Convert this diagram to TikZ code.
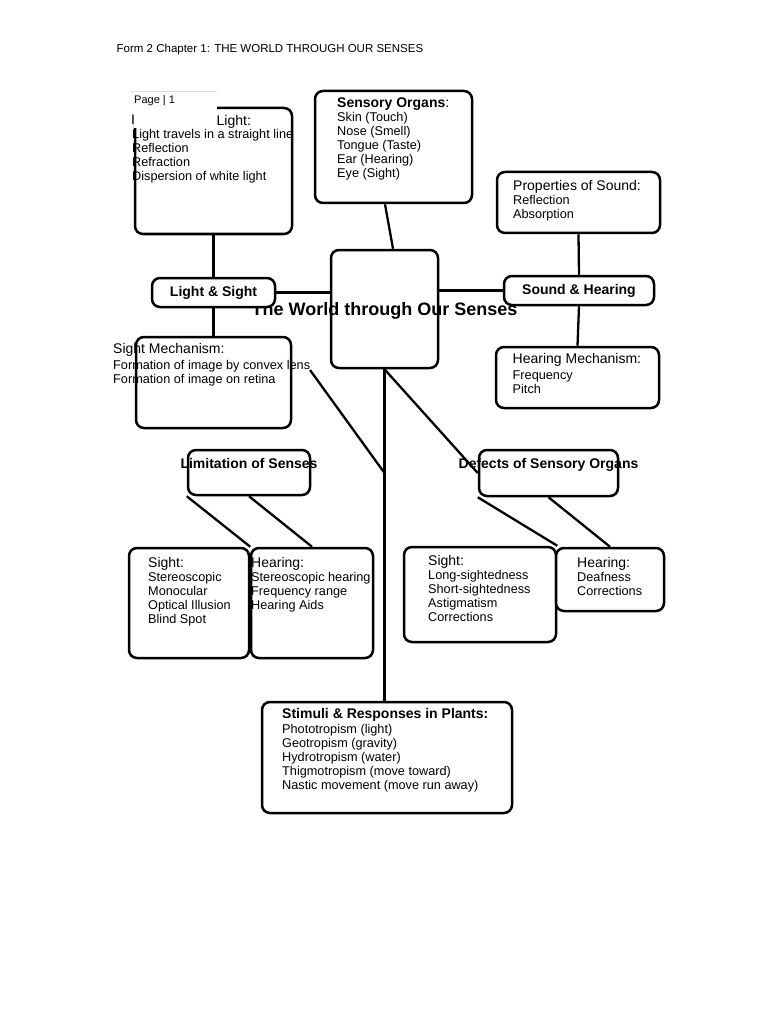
\documentclass[tikz,border=0pt]{standalone}
\usepackage{fontspec}
\setmainfont{Liberation Sans}
\tikzstyle{roundbox} = [rectangle, rounded corners=8pt, draw=black, line width=2.5pt, fill=white, inner sep=0pt]
\tikzstyle{labelbox} = [roundbox, font=\fontsize{14}{16}\selectfont\bfseries]
\tikzstyle{body} = [inner sep=0pt, anchor=north west, align=left, font=\fontsize{12.7}{14}\selectfont]
\tikzstyle{link} = [line width=2.3pt]
\newcommand{\headtxt}[1]{{\fontsize{14}{14}\selectfont #1}}
\begin{document}
\begin{tikzpicture}[x=1pt, y=-1pt]
\fill[white] (0,0) rectangle (768,1024);
\useasboundingbox (0,0) rectangle (768,1024);

% Header line
\node[anchor=base west, inner sep=0pt, font=\fontsize{11.5}{13}\selectfont] (headerTXT) at (116.5,53) {Form 2 Chapter 1: THE WORLD THROUGH OUR SENSES};

% Top row - boxes
\node[roundbox] (lightBOX) [minimum width=157pt, minimum height=126pt] at (213.5,171) {};
\node[roundbox] (sensoryBOX) [minimum width=157pt, minimum height=112pt] at (393.5,147) {};
\node[roundbox] (soundPROP) [minimum width=163pt, minimum height=61pt] at (578.5,202.5) {};

% Middle row - boxes
\node[roundbox] (centerBOX) [minimum width=107pt, minimum height=118pt] at (384.5,309) {};
\node[roundbox] (sightMECH) [minimum width=155pt, minimum height=91pt] at (213.5,382.5) {};
\node[roundbox] (hearMECH) [minimum width=163pt, minimum height=61pt] at (577.5,377.5) {};

% Lower rows - boxes
\node[roundbox] (limitBOX) [minimum width=122pt, minimum height=45pt] at (249,472.5) {};
\node[roundbox] (defectBOX) [minimum width=139pt, minimum height=46pt] at (548.5,473) {};
\node[roundbox] (limSIGHT) [minimum width=120pt, minimum height=110pt] at (189,603) {};
\node[roundbox] (limHEAR) [minimum width=122pt, minimum height=110pt] at (312,603) {};
\node[roundbox] (defSIGHT) [minimum width=152pt, minimum height=95pt] at (480,594.5) {};
\node[roundbox] (defHEAR) [minimum width=108pt, minimum height=63pt] at (610,579.5) {};
\node[roundbox] (plantBOX) [minimum width=250pt, minimum height=111pt] at (387,757.5) {};

% Centre title (under the label boxes)
\node[inner sep=0pt, anchor=base, font=\fontsize{18}{20}\selectfont\bfseries] (titleTXT) at (384.5,315.5) {The World through Our Senses};

% Label boxes
\node[labelbox] (lightSIGHT) [minimum width=123pt, minimum height=29pt] at (213.5,292.5) {Light \& Sight};
\node[labelbox] (soundHEAR) [minimum width=150pt, minimum height=29pt] at (579,290.5) {Sound \& Hearing};

% Connectors
\coordinate (lensEND) at (310,370);
\coordinate (junction) at (centerBOX.south |- defectBOX.west);
\draw [link] ([xshift=-8.5pt]sensoryBOX.south) -- ([xshift=8.5pt]centerBOX.north);
\draw [link] (soundPROP.south) -- (soundHEAR.north);
\draw [link] (lightBOX.south) -- (lightSIGHT.north);
\draw [link] (lightSIGHT.south) -- (sightMECH.north);
\draw [link] (lightSIGHT.east) -- (lightSIGHT.east -| centerBOX.west);
\draw [link] (centerBOX.east |- soundHEAR.west) -- (soundHEAR.west);
\draw [link] (soundHEAR.south) -- (hearMECH.north);
\draw [link] (centerBOX.south) -- (centerBOX.south |- plantBOX.north);
\draw [link] (centerBOX.south) -- (defectBOX.west);
\draw [link] (lensEND) -- (junction);
\draw [link] (limitBOX.south west) -- (limSIGHT.north east);
\draw [link] (limitBOX.south) -- (limHEAR.north);
\draw [link] (defectBOX.south west) -- (defSIGHT.north east);
\draw [link] (defectBOX.south) -- (defHEAR.north);

% Box titles
\node[inner sep=0pt, anchor=base, font=\fontsize{14}{16}\selectfont\bfseries] (limitTXT) at (249,468) {Limitation of Senses};
\node[inner sep=0pt, anchor=base, font=\fontsize{14}{16}\selectfont\bfseries] (defectTXT) at (548.5,468) {Defects of Sensory Organs};

% Box texts
\node[inner sep=0pt, anchor=base west, font=\fontsize{14}{16}\selectfont] (lightHEADa) at (131,125) {I};
\node[inner sep=0pt, anchor=base west, font=\fontsize{14}{16}\selectfont] (lightHEADb) at (216.5,126) {Light:};
\node[body] (lightTXT) at (132,129.3) {Light travels in a straight line\\Reflection\\Refraction\\Dispersion of white light};
\node[body] (sensoryTXT) at (337,97.3) {\headtxt{\textbf{Sensory Organs}:}\\Skin (Touch)\\Nose (Smell)\\Tongue (Taste)\\Ear (Hearing)\\Eye (Sight)};
\node[body] (propTXT) at (513,179.8) {\headtxt{Properties of Sound:}\\Reflection\\Absorption};
\node[body] (sightTXT) at (113,342.8) {\headtxt{Sight Mechanism:}\\[2pt]Formation of image by convex lens\\Formation of image on retina};
\node[body] (hearTXT) at (512.5,352.8) {\headtxt{Hearing Mechanism:}\\[2pt]Frequency\\Pitch};
\node[body] (limSightTXT) at (148,556.8) {\headtxt{Sight:}\\Stereoscopic\\Monocular\\Optical Illusion\\Blind Spot};
\node[body] (limHearTXT) at (251,556.8) {\headtxt{Hearing:}\\Stereoscopic hearing\\Frequency range\\Hearing Aids};
\node[body] (defSightTXT) at (428,554.8) {\headtxt{Sight:}\\Long-sightedness\\Short-sightedness\\Astigmatism\\Corrections};
\node[body] (defHearTXT) at (577,556.8) {\headtxt{Hearing:}\\Deafness\\Corrections};
\node[body] (plantTXT) at (282,707.8) {\headtxt{\textbf{Stimuli \& Responses in Plants:}}\\[1pt]Phototropism (light)\\Geotropism (gravity)\\Hydrotropism (water)\\Thigmotropism (move toward)\\Nastic movement (move run away)};

% Page tag over the top left corner
\node[fill=white, inner sep=0pt, anchor=north west, minimum width=83.5pt, minimum height=37pt] (pageMASK) at (133.5,91) {};
\draw[gray!25, line width=0.8pt] ([xshift=-3.5pt]pageMASK.north west) -- (pageMASK.north east);
\node[anchor=base west, inner sep=0pt, font=\fontsize{11}{13}\selectfont] (pageTXT) at (134,104) {Page | 1};

\end{tikzpicture}
\end{document}
